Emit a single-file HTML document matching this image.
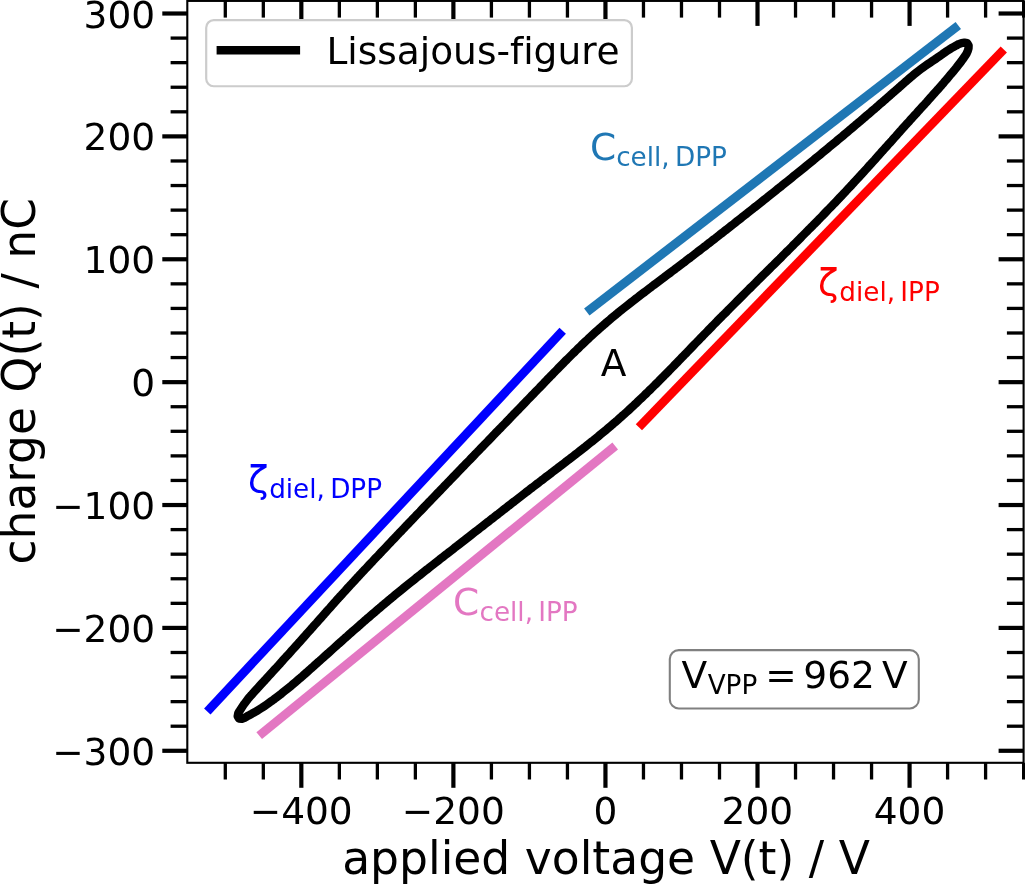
<!DOCTYPE html>
<html lang="en"><head><meta charset="utf-8"><title>Lissajous figure</title>
<style>
html,body{margin:0;padding:0;background:#fff;}
body{width:1025px;height:884px;overflow:hidden;}
svg{display:block;}
text{font-family:"DejaVu Sans", "Liberation Sans", sans-serif;fill:#000;font-variant-ligatures:none;font-kerning:none;}
.tick{font-size:37.50px;}
.lab{font-size:45.60px;}
.ann{font-size:37.50px;}
.sub{font-size:26.25px;word-spacing:-3.1px;}
.leg{font-size:37.50px;}
</style></head><body>
<svg width="1025" height="884" viewBox="0 0 1025 884">
<rect x="0" y="0" width="1025" height="884" fill="#fff"/>
<g stroke="#000" fill="none" stroke-linecap="butt">
<line x1="225.30" y1="762.80" x2="225.30" y2="779.50" stroke-width="3.30"/>
<line x1="225.30" y1="0.90" x2="225.30" y2="17.60" stroke-width="3.30"/>
<line x1="263.32" y1="762.80" x2="263.32" y2="779.50" stroke-width="3.30"/>
<line x1="263.32" y1="0.90" x2="263.32" y2="17.60" stroke-width="3.30"/>
<line x1="301.33" y1="762.80" x2="301.33" y2="787.80" stroke-width="4.20"/>
<line x1="301.33" y1="0.90" x2="301.33" y2="25.90" stroke-width="4.20"/>
<line x1="339.35" y1="762.80" x2="339.35" y2="779.50" stroke-width="3.30"/>
<line x1="339.35" y1="0.90" x2="339.35" y2="17.60" stroke-width="3.30"/>
<line x1="377.36" y1="762.80" x2="377.36" y2="779.50" stroke-width="3.30"/>
<line x1="377.36" y1="0.90" x2="377.36" y2="17.60" stroke-width="3.30"/>
<line x1="415.38" y1="762.80" x2="415.38" y2="779.50" stroke-width="3.30"/>
<line x1="415.38" y1="0.90" x2="415.38" y2="17.60" stroke-width="3.30"/>
<line x1="453.39" y1="762.80" x2="453.39" y2="787.80" stroke-width="4.20"/>
<line x1="453.39" y1="0.90" x2="453.39" y2="25.90" stroke-width="4.20"/>
<line x1="491.41" y1="762.80" x2="491.41" y2="779.50" stroke-width="3.30"/>
<line x1="491.41" y1="0.90" x2="491.41" y2="17.60" stroke-width="3.30"/>
<line x1="529.42" y1="762.80" x2="529.42" y2="779.50" stroke-width="3.30"/>
<line x1="529.42" y1="0.90" x2="529.42" y2="17.60" stroke-width="3.30"/>
<line x1="567.44" y1="762.80" x2="567.44" y2="779.50" stroke-width="3.30"/>
<line x1="567.44" y1="0.90" x2="567.44" y2="17.60" stroke-width="3.30"/>
<line x1="605.45" y1="762.80" x2="605.45" y2="787.80" stroke-width="4.20"/>
<line x1="605.45" y1="0.90" x2="605.45" y2="25.90" stroke-width="4.20"/>
<line x1="643.47" y1="762.80" x2="643.47" y2="779.50" stroke-width="3.30"/>
<line x1="643.47" y1="0.90" x2="643.47" y2="17.60" stroke-width="3.30"/>
<line x1="681.48" y1="762.80" x2="681.48" y2="779.50" stroke-width="3.30"/>
<line x1="681.48" y1="0.90" x2="681.48" y2="17.60" stroke-width="3.30"/>
<line x1="719.50" y1="762.80" x2="719.50" y2="779.50" stroke-width="3.30"/>
<line x1="719.50" y1="0.90" x2="719.50" y2="17.60" stroke-width="3.30"/>
<line x1="757.51" y1="762.80" x2="757.51" y2="787.80" stroke-width="4.20"/>
<line x1="757.51" y1="0.90" x2="757.51" y2="25.90" stroke-width="4.20"/>
<line x1="795.53" y1="762.80" x2="795.53" y2="779.50" stroke-width="3.30"/>
<line x1="795.53" y1="0.90" x2="795.53" y2="17.60" stroke-width="3.30"/>
<line x1="833.54" y1="762.80" x2="833.54" y2="779.50" stroke-width="3.30"/>
<line x1="833.54" y1="0.90" x2="833.54" y2="17.60" stroke-width="3.30"/>
<line x1="871.56" y1="762.80" x2="871.56" y2="779.50" stroke-width="3.30"/>
<line x1="871.56" y1="0.90" x2="871.56" y2="17.60" stroke-width="3.30"/>
<line x1="909.57" y1="762.80" x2="909.57" y2="787.80" stroke-width="4.20"/>
<line x1="909.57" y1="0.90" x2="909.57" y2="25.90" stroke-width="4.20"/>
<line x1="947.59" y1="762.80" x2="947.59" y2="779.50" stroke-width="3.30"/>
<line x1="947.59" y1="0.90" x2="947.59" y2="17.60" stroke-width="3.30"/>
<line x1="985.60" y1="762.80" x2="985.60" y2="779.50" stroke-width="3.30"/>
<line x1="985.60" y1="0.90" x2="985.60" y2="17.60" stroke-width="3.30"/>
<line x1="1023.62" y1="762.80" x2="1023.62" y2="779.50" stroke-width="3.30"/>
<line x1="1023.62" y1="0.90" x2="1023.62" y2="17.60" stroke-width="3.30"/>
<line x1="162.30" y1="750.79" x2="187.30" y2="750.79" stroke-width="4.20"/>
<line x1="998.60" y1="750.79" x2="1023.60" y2="750.79" stroke-width="4.20"/>
<line x1="170.60" y1="726.21" x2="187.30" y2="726.21" stroke-width="3.30"/>
<line x1="1006.90" y1="726.21" x2="1023.60" y2="726.21" stroke-width="3.30"/>
<line x1="170.60" y1="701.64" x2="187.30" y2="701.64" stroke-width="3.30"/>
<line x1="1006.90" y1="701.64" x2="1023.60" y2="701.64" stroke-width="3.30"/>
<line x1="170.60" y1="677.06" x2="187.30" y2="677.06" stroke-width="3.30"/>
<line x1="1006.90" y1="677.06" x2="1023.60" y2="677.06" stroke-width="3.30"/>
<line x1="170.60" y1="652.49" x2="187.30" y2="652.49" stroke-width="3.30"/>
<line x1="1006.90" y1="652.49" x2="1023.60" y2="652.49" stroke-width="3.30"/>
<line x1="162.30" y1="627.91" x2="187.30" y2="627.91" stroke-width="4.20"/>
<line x1="998.60" y1="627.91" x2="1023.60" y2="627.91" stroke-width="4.20"/>
<line x1="170.60" y1="603.33" x2="187.30" y2="603.33" stroke-width="3.30"/>
<line x1="1006.90" y1="603.33" x2="1023.60" y2="603.33" stroke-width="3.30"/>
<line x1="170.60" y1="578.76" x2="187.30" y2="578.76" stroke-width="3.30"/>
<line x1="1006.90" y1="578.76" x2="1023.60" y2="578.76" stroke-width="3.30"/>
<line x1="170.60" y1="554.18" x2="187.30" y2="554.18" stroke-width="3.30"/>
<line x1="1006.90" y1="554.18" x2="1023.60" y2="554.18" stroke-width="3.30"/>
<line x1="170.60" y1="529.61" x2="187.30" y2="529.61" stroke-width="3.30"/>
<line x1="1006.90" y1="529.61" x2="1023.60" y2="529.61" stroke-width="3.30"/>
<line x1="162.30" y1="505.03" x2="187.30" y2="505.03" stroke-width="4.20"/>
<line x1="998.60" y1="505.03" x2="1023.60" y2="505.03" stroke-width="4.20"/>
<line x1="170.60" y1="480.45" x2="187.30" y2="480.45" stroke-width="3.30"/>
<line x1="1006.90" y1="480.45" x2="1023.60" y2="480.45" stroke-width="3.30"/>
<line x1="170.60" y1="455.88" x2="187.30" y2="455.88" stroke-width="3.30"/>
<line x1="1006.90" y1="455.88" x2="1023.60" y2="455.88" stroke-width="3.30"/>
<line x1="170.60" y1="431.30" x2="187.30" y2="431.30" stroke-width="3.30"/>
<line x1="1006.90" y1="431.30" x2="1023.60" y2="431.30" stroke-width="3.30"/>
<line x1="170.60" y1="406.73" x2="187.30" y2="406.73" stroke-width="3.30"/>
<line x1="1006.90" y1="406.73" x2="1023.60" y2="406.73" stroke-width="3.30"/>
<line x1="162.30" y1="382.15" x2="187.30" y2="382.15" stroke-width="4.20"/>
<line x1="998.60" y1="382.15" x2="1023.60" y2="382.15" stroke-width="4.20"/>
<line x1="170.60" y1="357.57" x2="187.30" y2="357.57" stroke-width="3.30"/>
<line x1="1006.90" y1="357.57" x2="1023.60" y2="357.57" stroke-width="3.30"/>
<line x1="170.60" y1="333.00" x2="187.30" y2="333.00" stroke-width="3.30"/>
<line x1="1006.90" y1="333.00" x2="1023.60" y2="333.00" stroke-width="3.30"/>
<line x1="170.60" y1="308.42" x2="187.30" y2="308.42" stroke-width="3.30"/>
<line x1="1006.90" y1="308.42" x2="1023.60" y2="308.42" stroke-width="3.30"/>
<line x1="170.60" y1="283.85" x2="187.30" y2="283.85" stroke-width="3.30"/>
<line x1="1006.90" y1="283.85" x2="1023.60" y2="283.85" stroke-width="3.30"/>
<line x1="162.30" y1="259.27" x2="187.30" y2="259.27" stroke-width="4.20"/>
<line x1="998.60" y1="259.27" x2="1023.60" y2="259.27" stroke-width="4.20"/>
<line x1="170.60" y1="234.69" x2="187.30" y2="234.69" stroke-width="3.30"/>
<line x1="1006.90" y1="234.69" x2="1023.60" y2="234.69" stroke-width="3.30"/>
<line x1="170.60" y1="210.12" x2="187.30" y2="210.12" stroke-width="3.30"/>
<line x1="1006.90" y1="210.12" x2="1023.60" y2="210.12" stroke-width="3.30"/>
<line x1="170.60" y1="185.54" x2="187.30" y2="185.54" stroke-width="3.30"/>
<line x1="1006.90" y1="185.54" x2="1023.60" y2="185.54" stroke-width="3.30"/>
<line x1="170.60" y1="160.97" x2="187.30" y2="160.97" stroke-width="3.30"/>
<line x1="1006.90" y1="160.97" x2="1023.60" y2="160.97" stroke-width="3.30"/>
<line x1="162.30" y1="136.39" x2="187.30" y2="136.39" stroke-width="4.20"/>
<line x1="998.60" y1="136.39" x2="1023.60" y2="136.39" stroke-width="4.20"/>
<line x1="170.60" y1="111.81" x2="187.30" y2="111.81" stroke-width="3.30"/>
<line x1="1006.90" y1="111.81" x2="1023.60" y2="111.81" stroke-width="3.30"/>
<line x1="170.60" y1="87.24" x2="187.30" y2="87.24" stroke-width="3.30"/>
<line x1="1006.90" y1="87.24" x2="1023.60" y2="87.24" stroke-width="3.30"/>
<line x1="170.60" y1="62.66" x2="187.30" y2="62.66" stroke-width="3.30"/>
<line x1="1006.90" y1="62.66" x2="1023.60" y2="62.66" stroke-width="3.30"/>
<line x1="170.60" y1="38.09" x2="187.30" y2="38.09" stroke-width="3.30"/>
<line x1="1006.90" y1="38.09" x2="1023.60" y2="38.09" stroke-width="3.30"/>
<line x1="162.30" y1="13.51" x2="187.30" y2="13.51" stroke-width="4.20"/>
<line x1="998.60" y1="13.51" x2="1023.60" y2="13.51" stroke-width="4.20"/>
</g>
<clipPath id="axclip"><rect x="187.30" y="0.90" width="836.30" height="761.90"/></clipPath>
<g clip-path="url(#axclip)" fill="none" stroke-linecap="butt">
<path d="M237.7 716.2 L238.2 713.4 L239.6 710.9 L241.2 708.4 L242.8 706.0 L244.4 703.7 L246.1 701.5 L247.8 699.2 L249.6 697.0 L251.5 694.9 L253.4 692.7 L255.3 690.6 L257.3 688.5 L259.2 686.4 L261.2 684.2 L263.1 682.1 L265.1 680.0 L267.0 677.9 L268.9 675.8 L270.9 673.6 L272.8 671.5 L274.7 669.4 L276.7 667.3 L278.6 665.2 L280.5 663.1 L282.4 660.9 L284.3 658.8 L286.2 656.7 L288.2 654.6 L290.1 652.5 L292.0 650.3 L293.9 648.2 L295.8 646.1 L297.7 644.0 L299.6 641.9 L301.5 639.7 L303.4 637.6 L305.3 635.5 L307.2 633.3 L309.1 631.2 L311.0 629.1 L312.9 626.9 L314.8 624.8 L316.7 622.7 L318.6 620.5 L320.5 618.4 L322.4 616.2 L324.3 614.1 L326.2 611.9 L328.1 609.8 L330.0 607.7 L331.9 605.5 L333.8 603.4 L335.7 601.3 L337.6 599.1 L339.5 597.0 L341.5 594.9 L343.4 592.8 L345.3 590.7 L347.2 588.5 L349.2 586.4 L351.1 584.3 L353.1 582.2 L355.0 580.1 L356.9 578.0 L358.9 575.9 L360.8 573.8 L362.8 571.7 L364.7 569.6 L366.7 567.6 L368.6 565.5 L370.6 563.4 L372.6 561.3 L374.5 559.2 L376.5 557.1 L378.5 555.1 L380.4 553.0 L382.4 550.9 L384.4 548.8 L386.3 546.8 L388.3 544.7 L390.3 542.6 L392.2 540.5 L394.2 538.5 L396.2 536.4 L398.1 534.3 L400.1 532.2 L402.1 530.2 L404.1 528.1 L406.0 526.0 L408.0 524.0 L410.0 521.9 L412.0 519.8 L414.0 517.8 L415.9 515.7 L417.9 513.6 L419.9 511.6 L421.9 509.5 L423.8 507.5 L425.8 505.4 L427.8 503.3 L429.8 501.3 L431.8 499.2 L433.8 497.1 L435.7 495.1 L437.7 493.0 L439.7 491.0 L441.7 488.9 L443.7 486.8 L445.7 484.8 L447.6 482.7 L449.6 480.7 L451.6 478.6 L453.6 476.5 L455.6 474.5 L457.6 472.4 L459.5 470.4 L461.5 468.3 L463.5 466.3 L465.5 464.2 L467.5 462.1 L469.5 460.1 L471.5 458.0 L473.5 456.0 L475.4 453.9 L477.4 451.9 L479.4 449.8 L481.4 447.7 L483.4 445.7 L485.4 443.6 L487.4 441.6 L489.4 439.5 L491.4 437.5 L493.3 435.4 L495.3 433.3 L497.3 431.3 L499.3 429.2 L501.3 427.2 L503.3 425.1 L505.3 423.1 L507.3 421.0 L509.3 419.0 L511.2 416.9 L513.2 414.8 L515.2 412.8 L517.2 410.7 L519.2 408.7 L521.2 406.6 L523.2 404.5 L525.2 402.5 L527.1 400.4 L529.1 398.4 L531.1 396.3 L533.1 394.3 L535.1 392.2 L537.1 390.1 L539.1 388.1 L541.1 386.0 L543.1 384.0 L545.0 381.9 L547.0 379.8 L549.0 377.8 L551.0 375.7 L553.0 373.7 L555.0 371.6 L557.0 369.6 L559.0 367.5 L561.0 365.5 L563.0 363.5 L565.0 361.4 L567.1 359.4 L569.1 357.4 L571.1 355.4 L573.1 353.4 L575.2 351.4 L577.2 349.4 L579.3 347.4 L581.3 345.4 L583.4 343.4 L585.5 341.4 L587.6 339.5 L589.6 337.5 L591.7 335.6 L593.8 333.7 L596.0 331.7 L598.1 329.8 L600.2 327.9 L602.4 326.1 L604.5 324.2 L606.7 322.3 L608.9 320.5 L611.0 318.6 L613.2 316.8 L615.4 315.0 L617.6 313.1 L619.9 311.3 L622.1 309.5 L624.3 307.8 L626.6 306.0 L628.8 304.2 L631.1 302.4 L633.3 300.7 L635.6 298.9 L637.8 297.2 L640.1 295.4 L642.4 293.7 L644.7 292.0 L647.0 290.2 L649.2 288.5 L651.5 286.8 L653.8 285.0 L656.1 283.3 L658.4 281.6 L660.7 279.9 L663.0 278.2 L665.3 276.4 L667.6 274.7 L669.9 273.0 L672.1 271.3 L674.4 269.6 L676.7 267.8 L679.0 266.1 L681.3 264.4 L683.6 262.7 L685.8 260.9 L688.1 259.2 L690.4 257.5 L692.7 255.7 L694.9 254.0 L697.2 252.2 L699.5 250.5 L701.7 248.8 L704.0 247.0 L706.3 245.3 L708.5 243.5 L710.8 241.8 L713.0 240.0 L715.3 238.3 L717.6 236.5 L719.8 234.7 L722.1 233.0 L724.3 231.2 L726.6 229.5 L728.8 227.7 L731.1 225.9 L733.3 224.2 L735.6 222.4 L737.8 220.6 L740.1 218.9 L742.3 217.1 L744.6 215.3 L746.8 213.6 L749.0 211.8 L751.3 210.0 L753.5 208.2 L755.8 206.5 L758.0 204.7 L760.2 202.9 L762.5 201.1 L764.7 199.3 L767.0 197.6 L769.2 195.8 L771.4 194.0 L773.7 192.2 L775.9 190.4 L778.1 188.6 L780.4 186.9 L782.6 185.1 L784.8 183.3 L787.1 181.5 L789.3 179.7 L791.5 177.9 L793.7 176.1 L796.0 174.3 L798.2 172.5 L800.4 170.7 L802.6 168.9 L804.9 167.1 L807.1 165.3 L809.3 163.5 L811.5 161.7 L813.7 159.9 L815.9 158.0 L818.2 156.2 L820.4 154.4 L822.6 152.6 L824.8 150.8 L827.0 149.0 L829.2 147.1 L831.4 145.3 L833.6 143.5 L835.8 141.7 L838.0 139.8 L840.2 138.0 L842.4 136.2 L844.6 134.3 L846.8 132.5 L849.0 130.6 L851.2 128.8 L853.3 127.0 L855.5 125.1 L857.7 123.3 L859.9 121.4 L862.1 119.6 L864.2 117.7 L866.4 115.8 L868.6 114.0 L870.8 112.1 L872.9 110.2 L875.1 108.4 L877.3 106.5 L879.4 104.6 L881.6 102.8 L883.7 100.9 L885.9 99.0 L888.0 97.1 L890.2 95.2 L892.3 93.3 L894.5 91.5 L896.6 89.6 L898.8 87.7 L900.9 85.8 L903.1 83.9 L905.2 82.0 L907.4 80.1 L909.5 78.3 L911.7 76.4 L913.9 74.6 L916.1 72.8 L918.4 71.0 L920.6 69.3 L922.9 67.6 L925.3 65.9 L927.6 64.3 L930.0 62.7 L932.4 61.1 L934.8 59.5 L937.1 57.8 L939.5 56.2 L941.8 54.6 L944.1 52.9 L946.5 51.3 L948.9 49.8 L951.3 48.2 L953.8 46.8 L956.3 45.4 L958.8 44.1 L961.5 43.1 L964.4 42.7 L967.3 43.2 L968.6 45.5 L968.5 48.4 L967.7 51.1 L966.5 53.7 L964.9 56.2 L963.3 58.5 L961.6 60.9 L959.9 63.1 L958.1 65.4 L956.4 67.6 L954.6 69.8 L952.8 72.0 L950.9 74.2 L949.1 76.4 L947.3 78.6 L945.4 80.7 L943.6 82.9 L941.7 85.1 L939.8 87.2 L937.9 89.4 L936.0 91.5 L934.1 93.6 L932.2 95.8 L930.3 97.9 L928.4 100.0 L926.5 102.2 L924.6 104.3 L922.6 106.4 L920.7 108.5 L918.8 110.6 L916.9 112.8 L914.9 114.9 L913.0 117.0 L911.1 119.1 L909.2 121.3 L907.2 123.4 L905.3 125.5 L903.4 127.6 L901.5 129.8 L899.6 131.9 L897.7 134.0 L895.8 136.2 L893.9 138.3 L892.0 140.5 L890.1 142.6 L888.1 144.7 L886.2 146.9 L884.3 149.0 L882.4 151.1 L880.5 153.3 L878.6 155.4 L876.7 157.5 L874.8 159.7 L872.9 161.8 L871.0 163.9 L869.0 166.0 L867.1 168.2 L865.2 170.3 L863.3 172.4 L861.3 174.5 L859.4 176.6 L857.5 178.7 L855.5 180.8 L853.6 182.9 L851.7 185.0 L849.7 187.1 L847.7 189.2 L845.8 191.3 L843.8 193.4 L841.9 195.5 L839.9 197.5 L837.9 199.6 L836.0 201.7 L834.0 203.7 L832.0 205.8 L830.0 207.9 L828.0 209.9 L826.0 212.0 L824.1 214.0 L822.1 216.1 L820.1 218.1 L818.1 220.2 L816.1 222.2 L814.1 224.2 L812.1 226.3 L810.1 228.3 L808.0 230.3 L806.0 232.4 L804.0 234.4 L802.0 236.4 L800.0 238.5 L798.0 240.5 L796.0 242.5 L793.9 244.5 L791.9 246.6 L789.9 248.6 L787.9 250.6 L785.8 252.6 L783.8 254.6 L781.8 256.7 L779.8 258.7 L777.7 260.7 L775.7 262.7 L773.7 264.7 L771.6 266.7 L769.6 268.8 L767.6 270.8 L765.6 272.8 L763.5 274.8 L761.5 276.8 L759.5 278.8 L757.4 280.8 L755.4 282.9 L753.4 284.9 L751.4 286.9 L749.3 288.9 L747.3 290.9 L745.3 292.9 L743.2 295.0 L741.2 297.0 L739.2 299.0 L737.2 301.0 L735.1 303.1 L733.1 305.1 L731.1 307.1 L729.1 309.1 L727.1 311.2 L725.1 313.2 L723.0 315.2 L721.0 317.3 L719.0 319.3 L717.0 321.3 L715.0 323.4 L713.0 325.4 L711.0 327.5 L709.0 329.5 L707.0 331.6 L705.0 333.6 L703.0 335.7 L701.0 337.7 L699.0 339.8 L697.0 341.9 L695.0 343.9 L693.0 346.0 L691.1 348.0 L689.1 350.1 L687.1 352.2 L685.1 354.2 L683.1 356.3 L681.1 358.3 L679.1 360.4 L677.1 362.5 L675.1 364.5 L673.1 366.6 L671.1 368.6 L669.1 370.7 L667.1 372.7 L665.1 374.7 L663.1 376.8 L661.1 378.8 L659.1 380.8 L657.1 382.9 L655.0 384.9 L653.0 386.9 L651.0 388.9 L648.9 390.9 L646.9 392.9 L644.8 394.9 L642.8 396.9 L640.7 398.8 L638.6 400.8 L636.6 402.8 L634.5 404.7 L632.4 406.7 L630.3 408.6 L628.2 410.6 L626.1 412.5 L624.0 414.4 L621.8 416.3 L619.7 418.2 L617.6 420.1 L615.4 422.0 L613.2 423.8 L611.1 425.7 L608.9 427.5 L606.7 429.4 L604.5 431.2 L602.3 433.0 L600.1 434.8 L597.9 436.7 L595.7 438.5 L593.5 440.3 L591.2 442.0 L589.0 443.8 L586.7 445.6 L584.5 447.4 L582.3 449.1 L580.0 450.9 L577.7 452.7 L575.5 454.4 L573.2 456.2 L571.0 457.9 L568.7 459.7 L566.4 461.4 L564.1 463.2 L561.9 464.9 L559.6 466.6 L557.3 468.4 L555.0 470.1 L552.8 471.8 L550.5 473.6 L548.2 475.3 L545.9 477.0 L543.7 478.8 L541.4 480.5 L539.1 482.3 L536.8 484.0 L534.6 485.7 L532.3 487.5 L530.0 489.2 L527.8 491.0 L525.5 492.7 L523.2 494.5 L521.0 496.2 L518.7 498.0 L516.5 499.7 L514.2 501.5 L511.9 503.2 L509.7 505.0 L507.4 506.7 L505.2 508.5 L502.9 510.2 L500.7 512.0 L498.4 513.8 L496.1 515.5 L493.9 517.3 L491.6 519.0 L489.4 520.8 L487.1 522.5 L484.9 524.3 L482.6 526.1 L480.4 527.8 L478.1 529.6 L475.8 531.3 L473.6 533.1 L471.3 534.9 L469.1 536.6 L466.8 538.4 L464.6 540.1 L462.3 541.9 L460.1 543.6 L457.8 545.4 L455.5 547.1 L453.3 548.9 L451.0 550.7 L448.8 552.4 L446.5 554.2 L444.2 555.9 L442.0 557.7 L439.7 559.4 L437.5 561.2 L435.2 563.0 L433.0 564.7 L430.7 566.5 L428.5 568.3 L426.2 570.0 L424.0 571.8 L421.7 573.6 L419.5 575.4 L417.2 577.1 L415.0 578.9 L412.8 580.7 L410.5 582.5 L408.3 584.3 L406.1 586.1 L403.8 587.9 L401.6 589.7 L399.4 591.5 L397.2 593.3 L395.0 595.1 L392.8 596.9 L390.6 598.8 L388.4 600.6 L386.2 602.4 L384.0 604.3 L381.8 606.1 L379.6 608.0 L377.4 609.8 L375.3 611.7 L373.1 613.5 L370.9 615.4 L368.8 617.3 L366.6 619.1 L364.4 621.0 L362.3 622.9 L360.1 624.8 L358.0 626.7 L355.8 628.6 L353.7 630.4 L351.5 632.3 L349.4 634.2 L347.3 636.1 L345.1 638.0 L343.0 639.9 L340.9 641.8 L338.7 643.7 L336.6 645.6 L334.5 647.5 L332.3 649.5 L330.2 651.4 L328.1 653.3 L325.9 655.2 L323.8 657.1 L321.7 659.0 L319.6 660.9 L317.4 662.8 L315.3 664.7 L313.2 666.6 L311.0 668.5 L308.9 670.4 L306.8 672.3 L304.6 674.2 L302.5 676.1 L300.3 678.0 L298.1 679.8 L296.0 681.7 L293.8 683.5 L291.6 685.4 L289.4 687.2 L287.2 689.0 L284.9 690.8 L282.7 692.6 L280.5 694.4 L278.2 696.1 L275.9 697.8 L273.6 699.6 L271.3 701.2 L269.0 702.9 L266.6 704.6 L264.3 706.2 L261.9 707.8 L259.5 709.3 L257.0 710.8 L254.6 712.3 L252.1 713.6 L249.6 715.0 L247.1 716.3 L244.5 717.8 L241.8 718.9 L239.0 718.6 Z" stroke="#000" stroke-width="8.40" stroke-linejoin="round"/>
<line x1="586.80" y1="312.00" x2="958.30" y2="25.50" stroke="#1f77b4" stroke-width="8.90"/>
<line x1="638.90" y1="427.25" x2="1003.80" y2="49.60" stroke="#ff0000" stroke-width="8.70"/>
<line x1="207.30" y1="711.40" x2="562.70" y2="330.80" stroke="#0000ff" stroke-width="8.80"/>
<line x1="259.20" y1="735.60" x2="615.20" y2="446.00" stroke="#e377c2" stroke-width="8.90"/>
</g>
<rect x="187.30" y="0.90" width="836.30" height="761.90" fill="none" stroke="#000" stroke-width="2.10"/>
<text class="tick" x="301.23" y="823.80" text-anchor="middle">−400</text>
<text class="tick" x="453.29" y="823.80" text-anchor="middle">−200</text>
<text class="tick" x="605.35" y="823.80" text-anchor="middle">0</text>
<text class="tick" x="757.41" y="823.80" text-anchor="middle">200</text>
<text class="tick" x="909.47" y="823.80" text-anchor="middle">400</text>
<text class="tick" x="155.20" y="764.79" text-anchor="end">−300</text>
<text class="tick" x="155.20" y="641.91" text-anchor="end">−200</text>
<text class="tick" x="155.20" y="519.03" text-anchor="end">−100</text>
<text class="tick" x="155.20" y="396.15" text-anchor="end">0</text>
<text class="tick" x="155.20" y="273.27" text-anchor="end">100</text>
<text class="tick" x="155.20" y="150.39" text-anchor="end">200</text>
<text class="tick" x="155.20" y="27.51" text-anchor="end">300</text>
<text class="lab" x="606.00" y="874.00" text-anchor="middle">applied voltage V(t) / V</text>
<text class="lab" transform="translate(35.10 381.30) rotate(-90)" text-anchor="middle">charge Q(t) / nC</text>
<rect x="206.20" y="20.20" width="425.70" height="66.05" rx="7.5" ry="7.5" fill="#fff" stroke="#ccc" stroke-width="2.20"/>
<line x1="216.6" y1="50.2" x2="300.1" y2="50.2" stroke="#000" stroke-width="8.40"/>
<text class="leg" x="326.40" y="63.60">Lissajous-figure</text>
<text class="ann" x="590.00" y="160.00" style="fill:#1f77b4">C<tspan class="sub" dx="0.00" dy="6.00">cell, DPP</tspan></text>
<text class="ann" x="818.10" y="295.40" style="fill:#ff0000">ζ<tspan class="sub" dx="0.85" dy="6.00">diel, IPP</tspan></text>
<text class="ann" x="248.10" y="491.90" style="fill:#0000ff">ζ<tspan class="sub" dx="0.65" dy="6.00">diel, DPP</tspan></text>
<text class="ann" x="452.90" y="614.80" style="fill:#e377c2">C<tspan class="sub" dx="0.40" dy="6.00">cell, IPP</tspan></text>
<text class="ann" x="600.70" y="376.20">A</text>
<rect x="669.80" y="650.10" width="249.00" height="58.40" rx="9.0" ry="9.0" fill="#fff" stroke="#808080" stroke-width="2.10"/>
<text class="ann" x="681.50" y="688.00">V<tspan class="sub" dx="0.50" dy="5.70">VPP</tspan><tspan dx="8.00" dy="-5.70">=</tspan><tspan dx="6.60">962</tspan><tspan dx="7.20">V</tspan></text>
</svg>
</body></html>
